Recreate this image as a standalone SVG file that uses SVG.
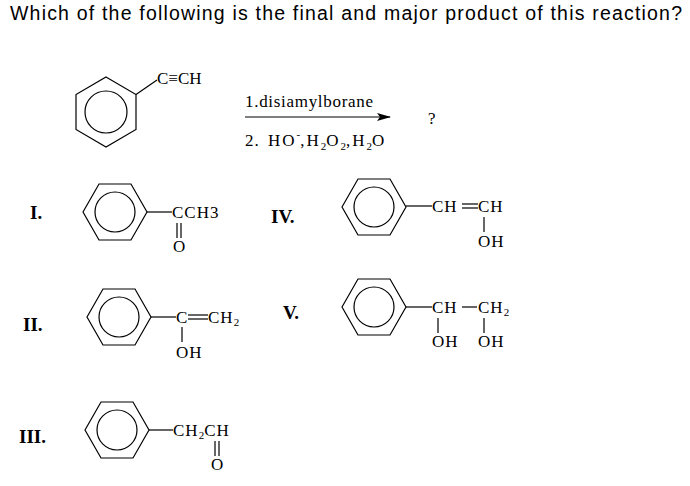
<svg xmlns="http://www.w3.org/2000/svg" width="690" height="486" viewBox="0 0 690 486">
<style>
.b{fill:none;stroke:#000;stroke-width:1.2}
.t{font-family:"Liberation Serif",serif;font-size:17px;letter-spacing:1px;fill:#000}
.s{font-size:11px;letter-spacing:0}
.l{font-family:"Liberation Serif",serif;font-size:19px;font-weight:bold;fill:#000}
.q{font-family:"Liberation Sans",Arial,sans-serif;font-size:19.5px;fill:#000}
</style>
<defs>
<g id="ringH"><polygon class="b" points="-32,0 -16,-28 16,-28 32,0 16,28 -16,28"/><circle class="b" r="20"/></g>
<marker id="ah" markerWidth="14" markerHeight="8" refX="13" refY="4" orient="auto" markerUnits="userSpaceOnUse"><path d="M0,0 L14,4 L0,8 L3,4Z"/></marker>
</defs>
<text class="q" x="10" y="20" textLength="672">Which of the following is the final and major product of this reaction?</text>
<g id="reactant">
<polygon class="b" points="106,77 136,94.5 136,129.5 106,147 76,129.5 76,94.5"/><circle class="b" cx="106" cy="112" r="21"/>
<line class="b" x1="136" y1="94.5" x2="157" y2="80"/>
<text class="t" x="157" y="84" style="letter-spacing:0">C≡CH</text>
</g>
<g id="reagents">
<text class="t" x="245" y="107" textLength="128" style="letter-spacing:0">1.disiamylborane</text>
<line class="b" x1="245" y1="117" x2="390" y2="117" marker-end="url(#ah)"/>
<text class="t" x="245" y="146">2.</text>
<text class="t" x="268" y="146" style="letter-spacing:2px">HO<tspan class="s" dy="-8">-</tspan><tspan dy="8">,H</tspan><tspan class="s" dy="4">2</tspan><tspan dy="-4">O</tspan><tspan class="s" dy="4">2</tspan><tspan dy="-4">,H</tspan><tspan class="s" dy="4">2</tspan><tspan dy="-4">O</tspan></text>
<text class="t" x="428" y="124">?</text>
</g>
<g id="p1">
<text class="l" x="30" y="219">I.</text>
<use href="#ringH" x="115" y="212"/>
<line class="b" x1="147" y1="212" x2="172" y2="212"/>
<text class="t" x="172" y="218">CCH3</text>
<line class="b" x1="177" y1="223" x2="177" y2="238"/><line class="b" x1="181" y1="223" x2="181" y2="238"/>
<text class="t" x="173" y="252">O</text>
</g>
<g id="p2">
<text class="l" x="23" y="331">II.</text>
<use href="#ringH" x="119" y="317"/>
<line class="b" x1="151" y1="317" x2="176" y2="317"/>
<text class="t" x="176" y="323">C</text>
<line class="b" x1="188" y1="315" x2="208" y2="315"/><line class="b" x1="188" y1="319" x2="208" y2="319"/>
<text class="t" x="208" y="323">CH<tspan class="s" dy="3">2</tspan></text>
<line class="b" x1="182" y1="327" x2="182" y2="342"/>
<text class="t" x="176" y="358">OH</text>
</g>
<g id="p3">
<text class="l" x="19" y="443">III.</text>
<use href="#ringH" x="117" y="430"/>
<line class="b" x1="149" y1="430" x2="173" y2="430"/>
<text class="t" x="173" y="436">CH<tspan class="s" dy="3">2</tspan><tspan dy="-3">CH</tspan></text>
<line class="b" x1="215" y1="441" x2="215" y2="456"/><line class="b" x1="219" y1="441" x2="219" y2="456"/>
<text class="t" x="211" y="470">O</text>
</g>
<g id="p4">
<text class="l" x="271" y="223">IV.</text>
<use href="#ringH" x="374" y="207"/>
<line class="b" x1="406" y1="206" x2="432" y2="206"/>
<text class="t" x="432" y="212">CH</text>
<line class="b" x1="462" y1="204" x2="478" y2="204"/><line class="b" x1="462" y1="208" x2="478" y2="208"/>
<text class="t" x="478" y="212">CH</text>
<line class="b" x1="484" y1="217" x2="484" y2="232"/>
<text class="t" x="478" y="247">OH</text>
</g>
<g id="p5">
<text class="l" x="283" y="319">V.</text>
<use href="#ringH" x="374" y="307"/>
<line class="b" x1="406" y1="307" x2="432" y2="307"/>
<text class="t" x="432" y="313">CH</text>
<line class="b" x1="462" y1="307" x2="477" y2="307"/>
<text class="t" x="478" y="313">CH<tspan class="s" dy="3">2</tspan></text>
<line class="b" x1="438" y1="318" x2="438" y2="333"/><line class="b" x1="484" y1="318" x2="484" y2="333"/>
<text class="t" x="432" y="347">OH</text><text class="t" x="478" y="347">OH</text>
</g>
</svg>
